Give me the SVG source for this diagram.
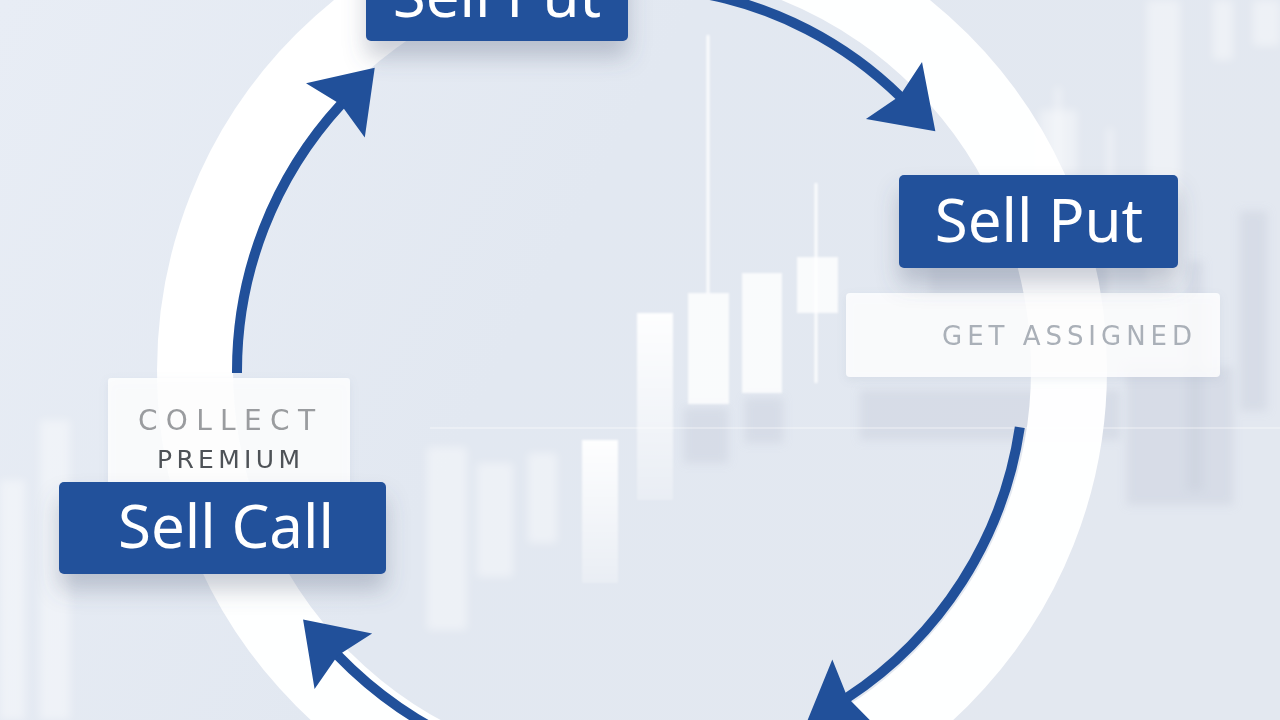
<svg xmlns="http://www.w3.org/2000/svg" width="1280" height="720" viewBox="0 0 1280 720">
  <defs>
    <linearGradient id="bg" x1="0" y1="0" x2="1" y2="0.3">
      <stop offset="0" stop-color="#e8edf5"/>
      <stop offset="0.5" stop-color="#e2e8f1"/>
      <stop offset="1" stop-color="#e3e8f0"/>
    </linearGradient>
    <linearGradient id="fadeDown" x1="0" y1="0" x2="0" y2="1">
      <stop offset="0" stop-color="#ffffff" stop-opacity="0.95"/>
      <stop offset="1" stop-color="#ffffff" stop-opacity="0.25"/>
    </linearGradient>
    <filter id="soft" x="-50%" y="-20%" width="200%" height="140%">
      <feGaussianBlur stdDeviation="4"/>
    </filter>
    <filter id="soft1" x="-20%" y="-20%" width="140%" height="140%">
      <feGaussianBlur stdDeviation="1.2"/>
    </filter>
    <filter id="shadow" x="-20%" y="-30%" width="140%" height="200%">
      <feDropShadow dx="0" dy="16" stdDeviation="11" flood-color="#52607a" flood-opacity="0.3"/>
    </filter>
    <filter id="noteShadow" x="-10%" y="-20%" width="120%" height="160%">
      <feDropShadow dx="0" dy="3" stdDeviation="4" flood-color="#8090a8" flood-opacity="0.15"/>
    </filter>
    <marker id="head" markerUnits="userSpaceOnUse" markerWidth="70" markerHeight="90" viewBox="-10 -45 70 90" refX="3" refY="0" orient="auto">
      <path d="M52,0 L-6,-40 L2,0 L-6,40 Z" fill="#21509a"/>
    </marker>
    <style>
      .box{fill:#21519b}
      .lbl{font-family:"Noto Sans","Open Sans",sans-serif;font-size:60px;fill:#ffffff;text-anchor:middle}
      .note{fill:#ffffff;fill-opacity:0.82}
      .cap{font-family:"DejaVu Sans","Noto Sans",sans-serif}
      .arr{fill:none;stroke:#21509a;stroke-width:10;marker-end:url(#head)}
      .cdl{fill:#ffffff;opacity:0.8}
      .wick{stroke:#ffffff;stroke-width:3;opacity:0.85}
      .far{fill:#ffffff;opacity:0.4}
      .gray{fill:#c7cfdb;opacity:0.45}
    </style>
  </defs>

  <!-- background -->
  <rect width="1280" height="720" fill="url(#bg)"/>

  <!-- faint chart in background -->
  <g id="chart">
    <g filter="url(#soft)">
      <rect class="far" x="0" y="480" width="25" height="240"/>
      <rect class="far" x="40" y="420" width="30" height="300" opacity="0.2"/>
      <rect class="far" x="427" y="447" width="40" height="183"/>
      <rect class="far" x="477" y="463" width="36" height="114"/>
      <rect class="far" x="528" y="453" width="29" height="90"/>
      <rect class="gray" x="684" y="408" width="44" height="55" opacity="0.3"/>
      <rect class="gray" x="745" y="398" width="38" height="45" opacity="0.3"/>
      <rect class="far" x="1040" y="110" width="37" height="64"/>
      <line x1="1058" y1="87" x2="1058" y2="300" stroke="#fff" stroke-width="5" opacity="0.5"/>
      <line x1="1110" y1="128" x2="1110" y2="300" stroke="#fff" stroke-width="5" opacity="0.5"/>
      <rect class="far" x="1147" y="0" width="33" height="284" opacity="0.55"/>
      <rect class="far" x="1213" y="0" width="20" height="60"/>
      <rect class="far" x="1253" y="0" width="27" height="46"/>
      <rect class="gray" x="930" y="266" width="180" height="30" opacity="0.7"/>
      <rect class="gray" x="1187" y="261" width="16" height="230"/>
      <rect class="gray" x="1240" y="211" width="27" height="200"/>
      <rect class="gray" x="1127" y="367" width="106" height="138" opacity="0.3"/>
      <rect class="gray" x="860" y="390" width="260" height="50" opacity="0.2"/>
    </g>
    <g filter="url(#soft1)">
      <line class="wick" x1="708" y1="35" x2="708" y2="293"/>
      <rect class="cdl" x="688" y="293" width="41" height="111"/>
      <rect class="cdl" x="742" y="273" width="40" height="120"/>
      <line class="wick" x1="816" y1="183" x2="816" y2="383"/>
      <rect class="cdl" x="797" y="257" width="41" height="56"/>
      <rect x="637" y="313" width="36" height="187" fill="url(#fadeDown)"/>
      <rect x="582" y="440" width="36" height="143" fill="url(#fadeDown)"/>
    </g>
    <line x1="430" y1="428" x2="1280" y2="428" stroke="#ffffff" stroke-width="2" opacity="0.3"/>
  </g>

  <!-- white ring -->
  <circle id="ring" cx="632" cy="370" r="437" fill="none" stroke="#ffffff" stroke-width="76" opacity="0.97"/>

  <!-- note boxes -->
  <g id="note-collect-premium">
    <rect class="note" x="108" y="378" width="242" height="110" rx="3" filter="url(#noteShadow)"/>
    <text class="cap" x="138" y="430" font-size="28" fill="#9a9c9f" textLength="177" lengthAdjust="spacing">COLLECT</text>
    <text class="cap" x="157" y="468" font-size="25" fill="#4e5257" textLength="143" lengthAdjust="spacing">PREMIUM</text>
  </g>
  <g id="note-get-assigned">
    <rect class="note" x="846" y="293" width="374" height="84" rx="4" filter="url(#noteShadow)"/>
    <text class="cap" x="942" y="345" font-size="26" fill="#aab0b8" textLength="250" lengthAdjust="spacing">GET ASSIGNED</text>
  </g>

  <!-- connectors -->
  <g id="connectors">
    <path class="arr" d="M237,373 A394,394 0 0 1 341.5,103.8"/>
    <path class="arr" d="M698.5,-7.2 A383,383 0 0 1 900.4,96.8"/>
    <path class="arr" d="M1019.8,427.3 A392,392 0 0 1 846.7,698"/>
    <path class="arr" d="M471.8,747.4 A410,410 0 0 1 337.1,654.8"/>
  </g>

  <!-- main nodes -->
  <g id="sell-put-top">
    <rect class="box" x="366" y="-52" width="262" height="93" rx="5" filter="url(#shadow)"/>
    <text class="lbl" x="497" y="17">Sell Put</text>
  </g>
  <g id="sell-put-right">
    <rect class="box" x="899" y="175" width="279" height="93" rx="5" filter="url(#shadow)"/>
    <text class="lbl" x="1039" y="242">Sell Put</text>
  </g>
  <g id="sell-call">
    <rect class="box" x="59" y="482" width="327" height="92" rx="5" filter="url(#shadow)"/>
    <text class="lbl" x="226" y="548">Sell Call</text>
  </g>
</svg>
